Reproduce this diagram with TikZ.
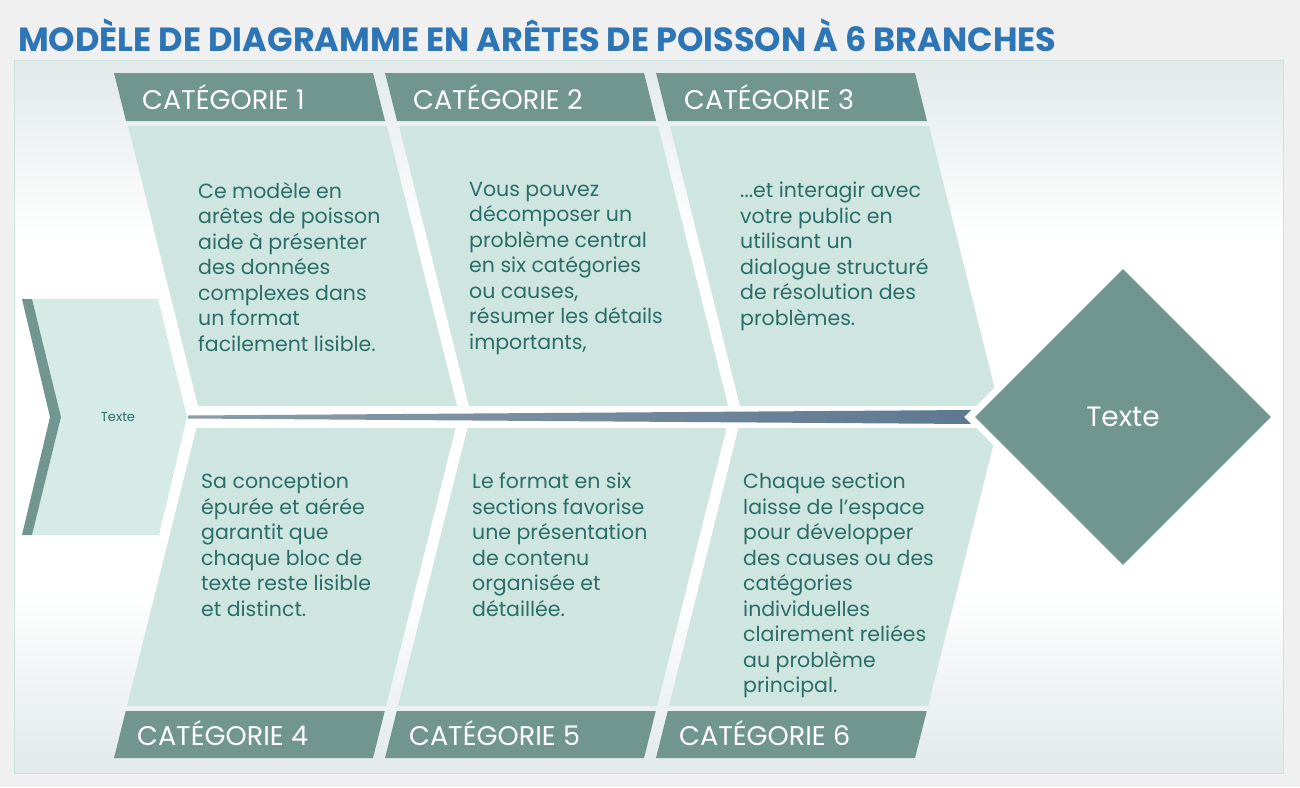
\documentclass[tikz,border=0pt]{standalone}
\usepackage{fontspec}
\setmainfont{Poppins}
\usepackage{xcolor}
\definecolor{pagegray}{HTML}{EFF0EF}
\definecolor{panelline}{HTML}{CDE2DD}
\definecolor{panelband}{HTML}{E2E9E9}
\definecolor{headteal}{HTML}{71968F}
\definecolor{blockmint}{HTML}{CFE5DF}
\definecolor{tailmint}{HTML}{D7EBE6}
\definecolor{textteal}{HTML}{2B6D68}
\definecolor{titleblue}{HTML}{2E75B6}
\definecolor{spineleft}{HTML}{8C9DA8}
\definecolor{spineright}{HTML}{5E7893}
\usepackage{tikz}
\usetikzlibrary{shapes.geometric, positioning}

\begin{document}
\begin{tikzpicture}[
	x=1pt, y=-1pt,
	header/.style={fill=headteal},
	block/.style={fill=blockmint},
	headlabel/.style={anchor=west, inner sep=0pt, text=white, font=\fontsize{27}{31}\selectfont},
	blocktext/.style={anchor=north west, inner sep=0pt, align=left, text=textteal, font=\fontsize{20.5}{25.5}\selectfont, execute at begin node=\strut},
	headbox/.style={diamond, aspect=1, minimum width=300pt, minimum height=300pt, inner sep=0pt, fill=headteal, draw=white, line width=2pt, text=white, font=\fontsize{28}{32}\selectfont},
	tailtext/.style={inner sep=0pt, text=textteal, font=\fontsize{13}{16}\selectfont}
	]
	\useasboundingbox (0,0) rectangle (1300,787);
	\fill[pagegray] (0,0) rectangle (1300,787);
	\fill[white] (14,60) rectangle (1283,773);
	\shade[top color=panelband, bottom color=white] (14,60) rectangle (1283,240);
	\shade[top color=white, bottom color=panelband] (14,590) rectangle (1283,773);
	\draw[panelline, line width=1pt] (14,60) rectangle (1283,773);

	\node[anchor=west, inner sep=0pt, text=titleblue, font=\fontsize{33.5}{38}\selectfont\bfseries] (title) at (18,35) {MODÈLE DE DIAGRAMME EN ARÊTES DE POISSON À 6 BRANCHES};

	\fill[header] (114,73) -- (373,73) -- (385,121) -- (126,121) -- cycle;
	\fill[header] (385,73) -- (644,73) -- (656,121) -- (397,121) -- cycle;
	\fill[header] (656,73) -- (915,73) -- (927,121) -- (668,121) -- cycle;
	\fill[header] (125.75,711) -- (384.75,711) -- (373,758) -- (114,758) -- cycle;
	\fill[header] (396.75,711) -- (655.75,711) -- (644,758) -- (385,758) -- cycle;
	\fill[header] (667.75,711) -- (926.75,711) -- (915,758) -- (656,758) -- cycle;

	\fill[block] (128,126) -- (387,126) -- (457,406) -- (198,406) -- cycle;
	\fill[block] (399,126) -- (658,126) -- (728,406) -- (469,406) -- cycle;
	\fill[block] (670,126) -- (929,126) -- (994.4,387.6) -- (976,406) -- (740,406) -- cycle;
	\fill[block] (196.5,428) -- (455.5,428) -- (386,706) -- (127,706) -- cycle;
	\fill[block] (467.5,428) -- (726.5,428) -- (657,706) -- (398,706) -- cycle;
	\fill[block] (738.5,428) -- (976,428) -- (993.2,445.2) -- (928,706) -- (669,706) -- cycle;

	\fill[tailmint] (32,299) -- (158,299) -- (187,417) -- (159,535) -- (32,535) -- (61,417) -- cycle;
	\fill[headteal] (22,299) -- (32,299) -- (61,417) -- (32,535) -- (22,535) -- (50,417) -- cycle;
	\shade[left color=spineleft, right color=spineright] (188,415.5) -- (971,410) -- (964,417) -- (971,424) -- (188,418.5) -- cycle;

	\node[headbox] (head) at (1123,417) {Texte};
	\node[tailtext] (tail) at (118,417) {Texte};

	\node[headlabel] (cat1) at (142,97) {CATÉGORIE 1};
	\node[headlabel] (cat2) at (413,97) {CATÉGORIE 2};
	\node[headlabel] (cat3) at (684,97) {CATÉGORIE 3};
	\node[headlabel] (cat4) at (137,733) {CATÉGORIE 4};
	\node[headlabel] (cat5) at (409,733) {CATÉGORIE 5};
	\node[headlabel] (cat6) at (679,733) {CATÉGORIE 6};

	\node[blocktext] (desc1) at (198,182) {Ce modèle en\\arêtes de poisson\\aide à présenter\\des données\\complexes dans\\un format\\facilement lisible.};
	\node[blocktext] (desc2) at (469,182) {Vous pouvez\\décomposer un\\problème central\\en six catégories\\ou causes,\\résumer les détails\\importants,};
	\node[blocktext] (desc3) at (740,182) {...et interagir avec\\votre public en\\utilisant un\\dialogue structuré\\de résolution des\\problèmes.};
	\node[blocktext] (desc4) at (201,473) {Sa conception\\épurée et aérée\\garantit que\\chaque bloc de\\texte reste lisible\\et distinct.};
	\node[blocktext] (desc5) at (472,473) {Le format en six\\sections favorise\\une présentation\\de contenu\\organisée et\\détaillée.};
	\node[blocktext] (desc6) at (743,473) {Chaque section\\laisse de l’espace\\pour développer\\des causes ou des\\catégories\\individuelles\\clairement reliées\\au problème\\principal.};
\end{tikzpicture}
\end{document}
